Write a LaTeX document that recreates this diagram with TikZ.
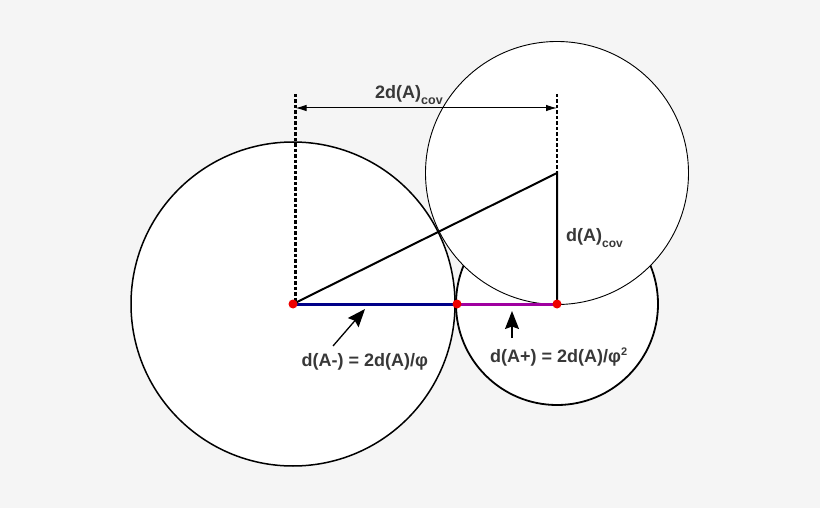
\documentclass[tikz,border=0pt]{standalone}
\usepackage{fontspec}
\setmainfont{Liberation Sans}
\usetikzlibrary{arrows.meta}
\definecolor{bg}{HTML}{F5F5F5}
\definecolor{txt}{HTML}{383838}
\definecolor{segblue}{HTML}{000088}
\definecolor{segmag}{HTML}{A000A0}
\definecolor{dotred}{HTML}{EE0000}
\begin{document}
\begin{tikzpicture}[x=1pt,y=-1pt,
  disc/.style={circle, draw=black, fill=white, inner sep=0pt, outer sep=0pt},
  dotnode/.style={circle, fill=dotred, inner sep=0pt, minimum size=9pt},
  lbl/.style={font=\fontsize{18}{20}\selectfont\bfseries, text=txt, inner sep=0pt},
  guide/.style={dash pattern=on 3.5pt off 2pt, line width=2.4pt},
  dimarrow/.style={{Latex[length=11pt,width=6.5pt]}-{Latex[length=11pt,width=6.5pt]}, line width=1pt},
  pointer/.style={-{Stealth[length=18pt,width=14pt,inset=2.5pt]}, line width=1.3pt},
  seg/.style={line width=3pt}]
\fill[bg] (0,0) rectangle (820,508);
\useasboundingbox (0,0) rectangle (820,508);
\coordinate (O) at (293,304);
\coordinate (M) at (457,304);
\coordinate (P) at (557,304);
\coordinate (T) at (557,173);
% circles
\node[disc, line width=1.5pt, minimum size=324pt] (big) at (O) {};
\node[disc, line width=1.8pt, minimum size=202pt] (low) at (P) {};
\node[disc, line width=0.9pt, minimum size=263pt] (top) at (T) {};
% guides
\coordinate (DL1) at (295.5,94);
\coordinate (DL2) at (295.5,302);
\coordinate (DR1) at (557,94);
\draw[guide] (DL1) -- (DL2);
\draw[guide] (DR1) -- (T);
\coordinate (AL) at (295.5,108);
\coordinate (AR) at (557,108);
\draw[dimarrow] (AL) -- (AR);
% segments
\draw[seg, segblue] (O) -- (M);
\draw[seg, segmag] (M) -- (P);
\draw[line width=2pt] (O) -- (T) -- (P);
% dots
\node[dotnode] (dO) at (O) {};
\node[dotnode] (dM) at (M) {};
\node[dotnode] (dP) at (P) {};
% labels
\node[lbl, anchor=base west] (ldim) at (375,98.5) {2d(A)\raisebox{-6.5pt}{\fontsize{12.5}{12.5}\selectfont cov}};
\node[lbl, anchor=base west] (lht) at (566,241.5) {d(A)\raisebox{-6pt}{\fontsize{12}{12}\selectfont cov}};
\node[lbl, anchor=base west] (lminus) at (301.5,366) {d(A-) = 2d(A)/φ};
\node[lbl, anchor=base west] (lplus) at (490,362) {d(A+) = 2d(A)/φ\raisebox{7pt}{\fontsize{11}{11}\selectfont 2}};
% pointers
\coordinate (p1s) at (333,346);
\coordinate (p1e) at (365,309);
\draw[pointer] (p1s) -- (p1e);
\coordinate (p2s) at (512,338);
\coordinate (p2e) at (512,311);
\draw[pointer] (p2s) -- (p2e);
\end{tikzpicture}
\end{document}
